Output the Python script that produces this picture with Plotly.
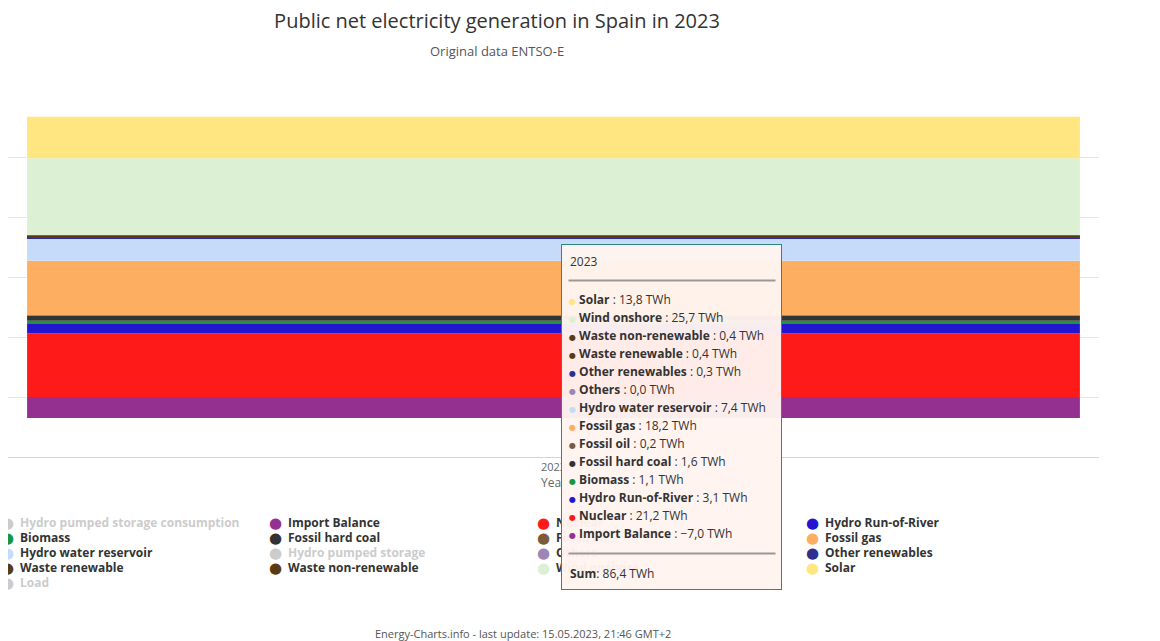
import plotly.graph_objects as go

categories = ["2023"]
# stacking order bottom->top (positive), then negative
series_names = ["Nuclear", "Hydro Run-of-River", "Biomass", "Fossil hard coal", "Fossil oil",
                "Fossil gas", "Hydro water reservoir", "Others", "Other renewables",
                "Waste renewable", "Waste non-renewable", "Wind onshore", "Solar", "Import Balance"]
series_values = [21.2, 3.1, 1.1, 1.6, 0.2, 18.2, 7.4, 0.0, 0.3, 0.4, 0.4, 25.7, 13.8, -7.0]
series_colors = ["#ff1a1a", "#2315d0", "#1a9641", "#333333", "#7a5c3c", "#fdae61", "#c6dbf9",
                 "#9d85b5", "#2f2f8f", "#5a3a10", "#5a3a10", "#dcf0d4", "#ffe680", "#933090"]
hidden_names = ["Hydro pumped storage consumption", "Hydro pumped storage", "Load"]
legend_order = ["Hydro pumped storage consumption", "Import Balance", "Nuclear", "Hydro Run-of-River",
                "Biomass", "Fossil hard coal", "Fossil oil", "Fossil gas",
                "Hydro water reservoir", "Hydro pumped storage", "Others", "Other renewables",
                "Waste renewable", "Waste non-renewable", "Wind onshore", "Solar", "Load"]
tooltip_order = ["Solar", "Wind onshore", "Waste non-renewable", "Waste renewable", "Other renewables",
                 "Others", "Hydro water reservoir", "Fossil gas", "Fossil oil", "Fossil hard coal",
                 "Biomass", "Hydro Run-of-River", "Nuclear", "Import Balance"]

OFF = 8  # page body margin
W, H = 1160 - OFF, 641 - OFF
ML, MT = 0, 97 - OFF
PW = 1091
MR = W - ML - PW
MB = H - (457 - OFF)
PH = H - MT - MB
def px(x): return (x - OFF - ML) / PW
def py(y): return (H - MB - (y - OFF)) / PH

FONT = "Open Sans, DejaVu Sans, sans-serif"
fig = go.Figure()
val = dict(zip(series_names, series_values))
col = dict(zip(series_names, series_colors))
for name in series_names:
    fig.add_trace(go.Bar(x=categories, y=[val[name]], name=name, marker_color=col[name],
                         marker_line_width=0, showlegend=False, hoverinfo="skip"))

fig.update_layout(
    width=W, height=H, barmode="relative", bargap=0.035,
    margin=dict(l=ML, r=MR, t=MT, b=MB),
    plot_bgcolor="white", paper_bgcolor="white",
    font=dict(family=FONT, color="#333333", size=12),
    title=dict(text="Public net electricity generation in Spain in 2023", x=(497 - OFF) / W,
               xanchor="center", y=1 - (21 - OFF) / H, yanchor="middle",
               font=dict(size=20, color="#333333")),
    xaxis=dict(showline=True, linecolor="#ccd6eb", tickfont=dict(color="#666666", size=11),
               title=dict(text="Year", font=dict(color="#666666", size=12), standoff=4)),
    yaxis=dict(range=[-20, 100], dtick=20, showticklabels=False, gridcolor="#e6e6e6",
               zeroline=False),
    showlegend=False,
)
def ann(text, x, y, size=12, color="#333333", anchor="left", **kw):
    fig.add_annotation(text=text, xref="paper", yref="paper", x=px(x), y=py(y), xanchor=anchor,
                       yanchor="middle", showarrow=False, font=dict(size=size, color=color), **kw)

ann("Original data ENTSO-E", 497, 51, size=13, color="#555555", anchor="center")
ann("Energy-Charts.info - last update: 15.05.2023, 21:46 GMT+2", 523, 633, size=11,
    color="#555555", anchor="center")

# manual 4-column legend
cols_x = [5, 273, 541, 810]
for i, name in enumerate(legend_order):
    r, c = divmod(i, 4)
    y = 522 + 15 * r
    hidden = name in hidden_names
    mc = "#cccccc" if hidden else col[name]
    tc = "#cccccc" if hidden else "#333333"
    ann(f"<span style='color:{mc}'>●</span>", cols_x[c] - 6, y, size=15)
    ann(f"<b>{name}</b>", cols_x[c] + 13, y, size=12, color=tc)

# static tooltip (annotations drawn on top of the legend)
fig.add_annotation(text=" ", xref="paper", yref="paper", x=px(561), y=py(244), xanchor="left",
                   yanchor="top", showarrow=False, width=219, height=344,
                   bgcolor="rgba(255,244,240,0.97)", bordercolor="#2a8a80", borderwidth=1, borderpad=0)
for yy in (280, 553):
    fig.add_annotation(text="", xref="paper", yref="paper", x=px(568), y=py(yy), xanchor="left",
                       yanchor="middle", showarrow=False, width=206, height=1, bgcolor="#999999",
                       borderpad=0)
ann("2023", 568, 261)
for i, name in enumerate(tooltip_order):
    v = ("%.1f" % val[name]).replace(".", ",").replace("-", "−")
    ann(f"<span style='color:{col[name]};font-size:8px'>●</span> <b>{name}</b> : {v} TWh",
        567, 299 + 18 * i)
total = sum(series_values)
ann(f"<b>Sum</b>: {('%.1f' % total).replace('.', ',')} TWh", 568, 573)

fig.write_html("out.html")
